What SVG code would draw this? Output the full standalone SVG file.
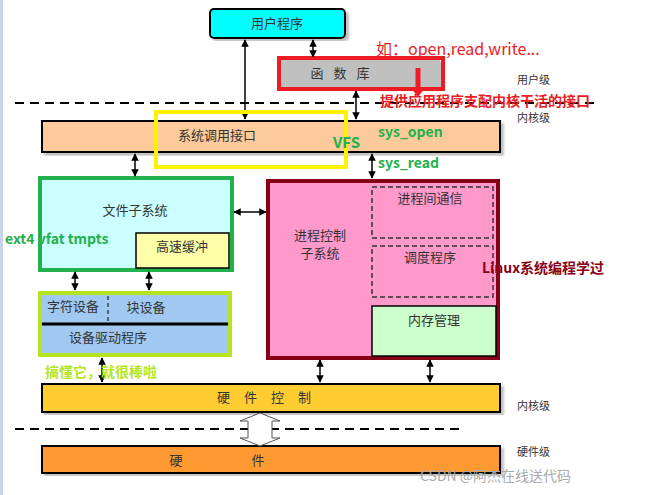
<svg xmlns="http://www.w3.org/2000/svg" width="648" height="495" viewBox="0 0 648 495">
<defs>
<marker id="a" viewBox="0 0 10 10" refX="9" refY="5" markerWidth="5" markerHeight="5" orient="auto-start-reverse"><path d="M0,0L10,5L0,10z" fill="#000"/></marker>
<filter id="sh"><feDropShadow dx="3" dy="3" stdDeviation="1" flood-color="#999" flood-opacity="0.6"/></filter>
</defs>
<style>
.t{font-family:"Noto Sans CJK SC",sans-serif;font-size:13px;fill:#333;text-anchor:middle}
.b{stroke:#000;stroke-width:2;filter:url(#sh)}
.c{stroke:#000;stroke-width:1.5;fill:none;marker-start:url(#a);marker-end:url(#a)}
.ann{font-family:"Noto Sans CJK SC",sans-serif;font-weight:bold}
</style>
<rect width="648" height="495" fill="#fff"/>
<rect width="3" height="495" fill="#c8d4e8"/>
<line x1="15" y1="103" x2="600" y2="103" stroke="#000" stroke-width="2" stroke-dasharray="9,6"/>
<line x1="15" y1="429" x2="460" y2="429" stroke="#000" stroke-width="2" stroke-dasharray="9,6"/>
<g id="user"><rect x="210" y="9" width="135" height="29" rx="4" fill="#00FFFF" class="b"/><text x="277" y="28" class="t">用户程序</text></g>
<g id="lib"><rect x="280" y="59" width="160" height="28" fill="#C0C0C0" stroke="none" filter="url(#sh)"/><text x="345" y="78" class="t" letter-spacing="10">函数库</text>
<rect x="279" y="58" width="164" height="31" fill="none" stroke="#ED1C24" stroke-width="4"/></g>
<g id="syscall"><rect x="42" y="121" width="458" height="31" fill="#FDCB9B" class="b"/><text x="217" y="140" class="t">系统调用接口</text></g>
<g id="fs"><rect x="40" y="178" width="192" height="92" fill="#CCFFFF" stroke="#22B14C" stroke-width="4"/>
<rect x="136" y="233" width="93" height="35" fill="#FFFFAA" stroke="#000" stroke-width="1.5"/>
<text x="135" y="215" class="t">文件子系统</text><text x="182" y="251" class="t">高速缓冲</text></g>
<g id="proc"><rect x="268" y="181" width="230" height="177" fill="#FF99CC" stroke="#880015" stroke-width="4"/>
<rect x="372" y="187" width="121" height="51" fill="none" stroke="#333" stroke-width="1.5" stroke-dasharray="5,3"/>
<rect x="372" y="246" width="121" height="51" fill="none" stroke="#333" stroke-width="1.5" stroke-dasharray="5,3"/>
<rect x="372" y="306" width="124" height="50" fill="#CCFFCC" stroke="#000" stroke-width="1.5"/>
<text x="320" y="240" class="t">进程控制</text><text x="320" y="258" class="t">子系统</text>
<text x="430" y="203" class="t">进程间通信</text><text x="430" y="262" class="t">调度程序</text><text x="434" y="325" class="t">内存管理</text></g>
<g id="dev"><rect x="40" y="293" width="190" height="62" fill="#A0C8F0" stroke="#B5E61D" stroke-width="4"/>
<line x1="108" y1="296" x2="108" y2="322" stroke="#000" stroke-dasharray="4,3"/>
<line x1="42" y1="324" x2="228" y2="324" stroke="#000" stroke-width="3"/>
<text x="73" y="311" class="t">字符设备</text><text x="146" y="312" class="t">块设备</text><text x="108" y="342" class="t">设备驱动程序</text></g>
<g id="hwctl"><rect x="42" y="384" width="458" height="28" fill="#FFCC33" class="b"/><text x="271" y="402" class="t" letter-spacing="14">硬件控制</text></g>
<g id="hw"><rect x="42" y="446" width="458" height="27" fill="#FF9933" class="b"/><text x="176" y="465" class="t">硬</text><text x="258" y="465" class="t">件</text></g>
<g id="connectors">
<line x1="245" y1="40" x2="245" y2="119" class="c"/>
<line x1="313" y1="40" x2="313" y2="57" class="c"/>
<line x1="356" y1="91" x2="356" y2="119" class="c"/>
<line x1="372" y1="154" x2="372" y2="178" class="c"/>
<line x1="135" y1="154" x2="135" y2="176" class="c"/>
<line x1="234" y1="212" x2="266" y2="212" class="c"/>
<line x1="75" y1="272" x2="75" y2="290" class="c"/>
<line x1="149" y1="272" x2="149" y2="290" class="c"/>
<line x1="102" y1="358" x2="102" y2="382" class="c"/>
<line x1="320" y1="360" x2="320" y2="382" class="c"/>
<line x1="430" y1="360" x2="430" y2="382" class="c"/>
<path d="M260,413 L280,421 L272,421 L272,438 L280,438 L260,446 L240,438 L248,438 L248,421 L240,421 Z" fill="#fff" stroke="#555" stroke-width="1"/>
<line x1="418" y1="68" x2="418" y2="92" stroke="#ED1C24" stroke-width="5"/>
<path d="M411,88 L425,88 L418,97 Z" fill="#ED1C24"/>
</g>
<rect x="156" y="112" width="190" height="55" fill="none" stroke="#FFF200" stroke-width="4"/>
<text x="376" y="55" font-family="Noto Sans CJK SC,sans-serif" font-size="16" fill="#ED1C24">如：open,read,write...</text>
<text x="380" y="106" class="ann" font-size="14" fill="#ED1C24">提供应用程序支配内核干活的接口</text>
<text x="333" y="148" class="ann" font-size="15" fill="#22B14C">VFS</text>
<text x="378" y="137" class="ann" font-size="14" fill="#22B14C">sys_open</text>
<text x="378" y="168" class="ann" font-size="14" fill="#22B14C">sys_read</text>
<text x="5" y="244" class="ann" font-size="14" fill="#22B14C">ext4  vfat tmpts</text>
<text x="482" y="273" class="ann" font-size="14" fill="#880015">Linux系统编程学过</text>
<text x="45" y="377" class="ann" font-size="14" fill="#B5E61D">搞懂它，就很棒啦</text>
<g class="t" style="text-anchor:start;font-size:11px"><text x="517" y="84">用户级</text><text x="517" y="122">内核级</text><text x="517" y="410">内核级</text><text x="517" y="456">硬件级</text></g>
<text x="420" y="481" font-family="Noto Sans CJK SC,sans-serif" font-size="14" fill="#aaa">CSDN @阿杰在线送代码</text>
</svg>
